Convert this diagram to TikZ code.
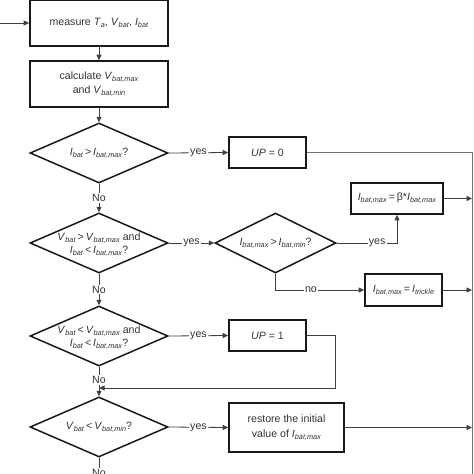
\documentclass[tikz,border=0pt]{standalone}
\usepackage{fontspec}
\setmainfont{Liberation Sans}
\usetikzlibrary{shapes.geometric,arrows.meta}
\newcommand{\vv}[2]{\textit{#1}\raisebox{-0.32ex}{\fontsize{7.3}{8}\selectfont\textit{#2}}}
\newcommand{\op}[1]{\hspace{0.18em}#1\hspace{0.18em}}
\begin{document}
\begin{tikzpicture}[x=1pt,y=-1pt,
  every node/.style={font=\fontsize{10.6}{12.5}\selectfont, text=black!80},
  boxnode/.style={draw=black!90, line width=1.6pt, rectangle, inner sep=0pt, align=center},
  dia/.style={draw=black!90, line width=1.5pt, diamond, inner sep=0pt, minimum width=138pt, minimum height=60pt},
  conn/.style={draw=black!75, line width=0.8pt},
  arr/.style={conn, -{Triangle[length=5.5pt,width=5pt]}},
  lbl/.style={fill=white, inner sep=1.2pt},
  rline/.style={draw=black!55, line width=1pt}]
\useasboundingbox (0,0) rectangle (474,474);
% boxes
\node[boxnode, minimum width=138pt, minimum height=46pt] (measure) at (99,23) {measure \vv{T}{a}, \vv{V}{bat}, \vv{I}{bat}};
\node[boxnode, minimum width=138pt, minimum height=46pt] (calc) at (99,84) {calculate \vv{V}{bat,max}\\[2pt]and \vv{V}{bat,min}};
\node[dia] (d1) at (99,153) {};
\node at (d1) {\vv{I}{bat}\op{>}\vv{I}{bat,max}?};
\node[dia] (d2) at (99,243) {};
\node[align=center] at ([yshift=-1.5pt]d2.center) {\vv{V}{bat}\op{>}\vv{V}{bat,max} and\\\vv{I}{bat}\op{<}\vv{I}{bat,max}?};
\node[dia] (d3) at (99,336) {};
\node[align=center] at ([yshift=-1.5pt]d3.center) {\vv{V}{bat}\op{<}\vv{V}{bat,max} and\\\vv{I}{bat}\op{<}\vv{I}{bat,max}?};
\node[dia] (d4) at (99,427) {};
\node at (d4) {\vv{V}{bat}\op{<}\vv{V}{bat,min}?};
\node[boxnode, minimum width=77pt, minimum height=31pt] (up0) at (267.5,152.5) {\textit{UP} = 0};
\node[boxnode, minimum width=92pt, minimum height=31pt] (beta) at (397,198.5) {\vv{I}{bat,max}\op{=}β*\vv{I}{bat,max}};
\node[dia, minimum width=121pt, minimum height=60pt] (d5) at (275.5,243) {};
\node at (d5) {\vv{I}{bat,max}\op{>}\vv{I}{bat,min}?};
\node[boxnode, minimum width=77pt, minimum height=32pt] (trickle) at (403.5,290) {\vv{I}{bat,max}\op{=}\vv{I}{trickle}};
\node[boxnode, minimum width=77pt, minimum height=31pt] (up1) at (267.5,335.5) {\textit{UP} = 1};
\node[boxnode, minimum width=115pt, minimum height=49pt] (restore) at (286.5,427.5) {restore the initial\\[2pt]value of \vv{I}{bat,max}};
% coordinates
\coordinate (in) at (0,23);
\coordinate (rtop) at (472,152.5);
\coordinate (rbot) at (472,480);
\coordinate (rb) at (472,198.5);
\coordinate (rt) at (472,290);
\coordinate (rr) at (472,427.5);
\coordinate (ybend) at (397,243);
\coordinate (nbend) at (275.5,290);
\coordinate (u1a) at (335,335.5);
\coordinate (u1b) at (335,388);
\coordinate (join) at (99,388);
\coordinate (d4out) at (99,488);
% connectors
\draw[arr] (in) -- (measure.west);
\draw[arr] (measure.south) -- (calc.north);
\draw[arr] (calc.south) -- (d1.north);
\draw[arr] (d1.south) -- node[lbl] {No} (d2.north);
\draw[arr] (d2.south) -- node[lbl] {No} (d3.north);
\draw[arr] (d3.south) -- node[lbl, pos=0.45] {No} (d4.north);
\draw[conn] (d4.south) -- node[lbl, pos=0.5] {No} (d4out);
\draw[arr] (d1.east) -- node[lbl] {yes} (up0.west);
\draw[arr] (d2.east) -- node[lbl] {yes} (d5.west);
\draw[arr] (d3.east) -- node[lbl] {yes} (up1.west);
\draw[arr] (d4.east) -- node[lbl] {yes} (restore.west);
\draw[arr] (d5.east) -- node[lbl, pos=0.67] {yes} (ybend) -- (beta.south);
\draw[arr] (d5.south) -- (nbend) -- node[lbl, pos=0.4] {no} (trickle.west);
\draw[rline] (up0.east) -- (rtop) -- (rbot);
\draw[arr] (beta.east) -- (rb);
\draw[arr] (trickle.east) -- (rt);
\draw[arr] (restore.east) -- (rr);
\draw[arr] (up1.east) -- (u1a) -- (u1b) -- (join);
\end{tikzpicture}
\end{document}
